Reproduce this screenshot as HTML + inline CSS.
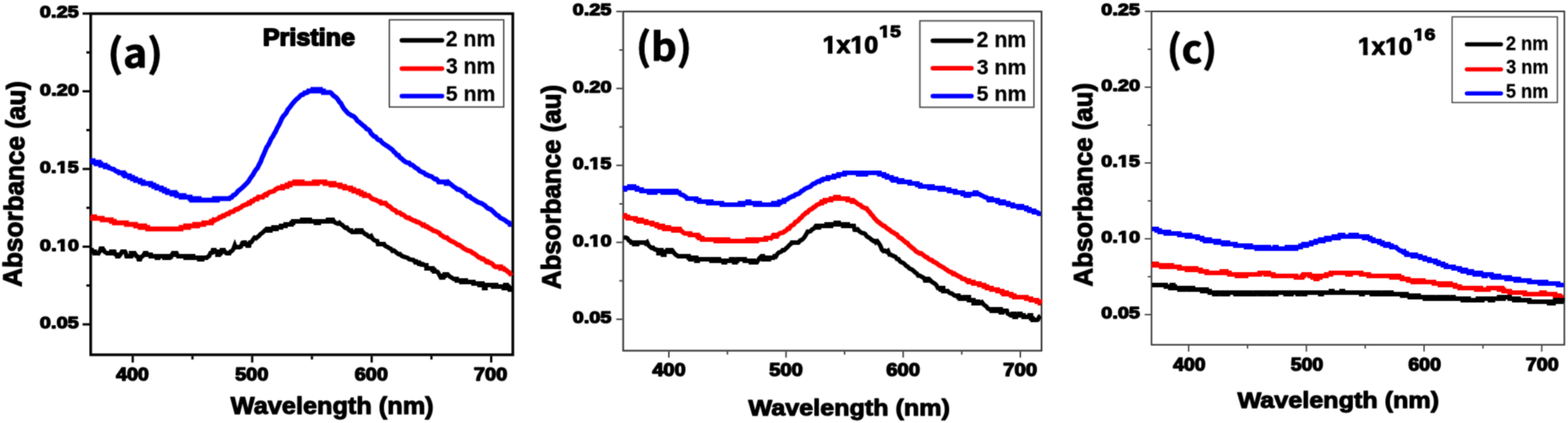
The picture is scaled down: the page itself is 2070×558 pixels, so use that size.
<!DOCTYPE html>
<html><head><meta charset="utf-8"><title>Absorbance spectra</title>
<style>
html,body{margin:0;padding:0;background:#fff;}
body{width:2070px;height:558px;overflow:hidden;}
svg{display:block;}
text{font-family:"Liberation Sans", Arial, Helvetica, sans-serif;font-weight:bold;}
</style></head><body>
<svg width="2070" height="558" viewBox="0 0 2070 558">
<defs><filter id="soft" x="0" y="0" width="2070" height="558" filterUnits="userSpaceOnUse" color-interpolation-filters="sRGB"><feConvolveMatrix order="3" kernelMatrix="1 2 1 2 8 2 1 2 1" edgeMode="duplicate"/></filter></defs>
<g filter="url(#soft)">
<rect x="0" y="0" width="2070" height="558" fill="#fff"/>
<rect x="119.75" y="18.00" width="557.25" height="450.00" fill="none" stroke="#000" stroke-width="3.5"/>
<line x1="118.00" y1="17.90" x2="109.00" y2="17.90" stroke="#000" stroke-width="2.98" stroke-linecap="butt"/>
<line x1="118.00" y1="120.40" x2="109.00" y2="120.40" stroke="#000" stroke-width="2.98" stroke-linecap="butt"/>
<line x1="118.00" y1="222.90" x2="109.00" y2="222.90" stroke="#000" stroke-width="2.98" stroke-linecap="butt"/>
<line x1="118.00" y1="325.40" x2="109.00" y2="325.40" stroke="#000" stroke-width="2.98" stroke-linecap="butt"/>
<line x1="118.00" y1="427.90" x2="109.00" y2="427.90" stroke="#000" stroke-width="2.98" stroke-linecap="butt"/>
<line x1="118.00" y1="69.15" x2="114.00" y2="69.15" stroke="#000" stroke-width="2.98" stroke-linecap="butt"/>
<line x1="118.00" y1="171.65" x2="114.00" y2="171.65" stroke="#000" stroke-width="2.98" stroke-linecap="butt"/>
<line x1="118.00" y1="274.15" x2="114.00" y2="274.15" stroke="#000" stroke-width="2.98" stroke-linecap="butt"/>
<line x1="118.00" y1="376.65" x2="114.00" y2="376.65" stroke="#000" stroke-width="2.98" stroke-linecap="butt"/>
<line x1="175.20" y1="469.75" x2="175.20" y2="478.25" stroke="#000" stroke-width="2.98" stroke-linecap="butt"/>
<line x1="332.95" y1="469.75" x2="332.95" y2="478.25" stroke="#000" stroke-width="2.98" stroke-linecap="butt"/>
<line x1="490.70" y1="469.75" x2="490.70" y2="478.25" stroke="#000" stroke-width="2.98" stroke-linecap="butt"/>
<line x1="648.45" y1="469.75" x2="648.45" y2="478.25" stroke="#000" stroke-width="2.98" stroke-linecap="butt"/>
<line x1="254.07" y1="469.75" x2="254.07" y2="474.25" stroke="#000" stroke-width="2.98" stroke-linecap="butt"/>
<line x1="411.82" y1="469.75" x2="411.82" y2="474.25" stroke="#000" stroke-width="2.98" stroke-linecap="butt"/>
<line x1="569.58" y1="469.75" x2="569.58" y2="474.25" stroke="#000" stroke-width="2.98" stroke-linecap="butt"/>
<path d="M119.0,288.0H121.0H123.0V286.0H125.0V288.0H127.0H129.0H131.0H133.0H135.0V290.0H137.0H139.0H141.0H143.0H145.0H147.0V292.0H149.0H151.0V294.0H153.0H155.0H157.0H159.0H161.0H163.0H165.0H167.0V296.0H169.0H171.0H173.0H175.0H177.0H179.0V298.0H181.0H183.0H185.0V300.0H187.0H189.0V298.0H191.0V300.0H193.0H195.0V302.0H197.0H199.0H201.0H203.0H205.0H207.0H209.0H211.0H213.0H215.0H217.0H219.0H221.0H223.0H225.0H227.0H229.0H231.0H233.0H235.0H237.0H239.0V300.0H241.0H243.0H245.0V298.0H247.0V300.0H249.0V298.0H251.0H253.0H255.0H257.0V296.0H259.0V298.0H261.0V296.0H263.0H265.0H267.0H269.0V294.0H271.0H273.0H275.0H277.0H279.0V292.0H281.0L282.0,289.9L284.0,290.4L286.0,289.3L288.0,288.7L290.0,286.5L292.0,286.6L294.0,284.5L296.0,284.7L298.0,283.0L300.0,281.9L302.0,282.1L304.0,279.7L306.0,279.5L308.0,279.1L310.0,277.0L312.0,275.9L314.0,276.1L316.0,274.3L318.0,273.8L320.0,271.6L322.0,271.1L324.0,269.8L326.0,269.7L328.0,267.6L330.0,268.1L332.0,265.3L334.0,265.4L336.0,263.0L338.0,262.3L340.0,262.4L341.0,260.0H343.0H345.0H347.0L348.0,258.1L350.0,256.5L352.0,257.2L354.0,254.7L356.0,253.5L358.0,253.0L360.0,252.5L362.0,251.8L364.0,249.6L366.0,249.0L367.0,248.0H369.0H371.0H373.0V246.0H375.0H377.0H379.0V244.0H381.0H383.0V242.0H385.0H387.0H389.0V240.0H391.0H393.0V242.0H395.0H397.0V240.0H399.0V242.0H401.0H403.0H405.0H407.0H409.0H411.0H413.0H415.0V240.0H417.0V242.0H419.0V240.0H421.0H423.0H425.0H427.0H429.0V242.0H431.0H433.0H435.0H437.0V244.0H439.0V242.0H441.0V244.0H443.0H445.0H447.0H449.0V246.0H451.0H453.0H455.0V248.0H457.0H459.0H461.0H463.0V250.0H465.0H467.0V252.0H469.0H471.0H473.0V254.0H475.0H477.0V256.0H479.0H481.0V258.0H483.0H485.0H487.0L488.0,259.0L490.0,261.3L492.0,262.5L494.0,263.1L496.0,263.6L498.0,264.8L500.0,265.9L502.0,265.9L503.0,268.0H505.0H507.0H509.0L510.0,269.4L512.0,271.6L514.0,272.2L516.0,273.9L518.0,276.0L520.0,276.9L522.0,277.7L524.0,280.3L526.0,280.3L528.0,280.7L530.0,283.0L532.0,283.1L534.0,284.6L536.0,286.6L538.0,287.4L540.0,287.3L542.0,289.0L544.0,289.8L546.0,290.9L548.0,291.3L550.0,292.8L552.0,292.8L554.0,294.1L556.0,295.2L558.0,297.1L560.0,296.5L562.0,298.8L564.0,298.9L566.0,300.7L568.0,301.5L570.0,302.7L572.0,304.3L574.0,304.7L576.0,305.3L578.0,306.4L580.0,307.5L582.0,310.1L584.0,310.9L586.0,312.7L588.0,313.4L590.0,313.4L592.0,315.7L594.0,317.1L596.0,318.2L598.0,319.0L600.0,319.9L602.0,321.2L604.0,322.9L606.0,323.1L608.0,324.6L610.0,325.7L612.0,327.6L614.0,328.5L616.0,329.8L618.0,330.7L620.0,331.0L622.0,332.0L624.0,333.7L626.0,334.5L628.0,336.0L630.0,337.6L632.0,339.3L634.0,339.9L636.0,341.5L638.0,341.4L640.0,343.0L642.0,345.2L644.0,344.8L646.0,346.5L648.0,347.0L650.0,348.1L652.0,350.7L654.0,352.0L655.0,352.0H657.0H659.0H661.0V354.0H663.0H665.0L666.0,355.7L668.0,356.1L670.0,358.1L672.0,359.2L674.0,361.7L675.2,363.6" fill="none" stroke="#ff0000" stroke-width="6.3" stroke-linejoin="miter" stroke-miterlimit="4" stroke-linecap="butt"/>
<path d="M119.0,212.0H121.0H123.0V214.0H125.0H127.0V216.0H129.0V214.0H131.0V216.0H133.0V218.0H135.0H137.0H139.0V220.0H141.0H143.0L144.0,221.6L146.0,221.9L148.0,223.1L150.0,223.1L152.0,224.9L154.0,226.2L156.0,226.5L157.0,228.0H159.0H161.0H163.0V230.0H165.0V232.0H167.0H169.0H171.0V234.0H173.0H175.0V236.0H177.0H179.0V238.0H181.0H183.0H185.0V240.0H187.0H189.0V242.0H191.0H193.0H195.0H197.0H199.0V244.0H201.0H203.0V246.0H205.0H207.0V248.0H209.0H211.0H213.0V250.0H215.0H217.0V252.0H219.0H221.0V254.0H223.0H225.0H227.0V256.0H229.0V254.0H231.0V256.0H233.0V258.0H235.0H237.0H239.0V260.0H241.0V258.0H243.0V260.0H245.0H247.0H249.0H251.0V262.0H253.0V264.0H255.0V262.0H257.0V264.0H259.0H261.0V262.0H263.0V264.0H265.0H267.0H269.0H271.0H273.0H275.0H277.0H279.0H281.0H283.0V262.0H285.0V264.0H287.0V262.0H289.0H291.0H293.0H295.0H297.0H299.0H301.0H303.0L304.0,260.6L306.0,260.3L308.0,257.5L310.0,256.9L312.0,255.0L314.0,252.3L316.0,250.7L318.0,249.1L320.0,247.5L322.0,245.4L324.0,243.4L326.0,241.5L328.0,239.4L330.0,236.0L332.0,233.0L334.0,230.5L336.0,226.7L338.0,223.8L340.0,221.5L342.0,217.1L344.0,213.6L346.0,208.2L348.0,203.9L350.0,199.1L352.0,194.2L354.0,191.5L356.0,187.7L358.0,183.0L360.0,180.4L362.0,176.5L364.0,173.2L366.0,168.6L368.0,165.3L370.0,161.3L372.0,156.5L374.0,153.3L376.0,151.2L378.0,148.6L380.0,144.5L382.0,142.2L384.0,139.7L386.0,136.9L388.0,134.7L390.0,132.3L392.0,130.4L394.0,129.0L396.0,126.7L398.0,125.1L400.0,124.8L402.0,122.5L404.0,122.5L406.0,121.8L407.0,120.0H409.0H411.0H413.0V118.0H415.0H417.0H419.0V120.0H421.0V118.0H423.0V120.0H425.0H427.0V122.0H429.0H431.0H433.0H435.0L436.0,122.0L438.0,123.6L440.0,126.0L442.0,127.3L444.0,128.9L446.0,131.1L448.0,134.4L450.0,136.3L452.0,140.1L454.0,143.4L456.0,145.5L458.0,147.9L460.0,150.0L462.0,150.9L464.0,152.5L466.0,152.9L468.0,154.5L470.0,156.8L472.0,159.7L474.0,160.8L476.0,162.7L478.0,164.4L480.0,166.0L482.0,167.5L484.0,170.1L486.0,170.7L488.0,172.5L490.0,176.2L492.0,178.1L494.0,180.0L496.0,180.6L498.0,183.2L500.0,184.7L502.0,185.0L504.0,187.6L506.0,189.3L508.0,190.6L510.0,192.0L512.0,193.1L514.0,194.8L516.0,196.2L518.0,197.5L520.0,200.2L522.0,201.7L524.0,204.6L526.0,204.8L528.0,207.9L530.0,209.1L532.0,211.1L534.0,212.6L536.0,214.0L538.0,214.6L540.0,214.8L542.0,217.3L544.0,217.5L546.0,218.9L548.0,220.9L550.0,222.0L552.0,223.2L554.0,225.6L556.0,226.4L558.0,227.3L560.0,228.2L562.0,230.3L564.0,230.6L566.0,232.1L568.0,232.4L570.0,233.1L572.0,234.7L574.0,236.2L576.0,236.1L578.0,238.2L579.0,240.0H581.0H583.0H585.0H587.0H589.0V242.0H591.0L592.0,240.5L594.0,242.3L596.0,243.7L598.0,245.6L600.0,246.8L602.0,248.3L604.0,250.1L606.0,249.9L608.0,251.2L610.0,252.6L612.0,253.8L614.0,254.9L616.0,257.9L618.0,259.0L620.0,259.0L622.0,261.2L624.0,262.2L626.0,263.6L628.0,264.7L630.0,266.2L632.0,267.1L634.0,267.7L636.0,268.4L638.0,269.8L640.0,270.8L642.0,273.0L644.0,274.7L646.0,275.5L648.0,276.3L650.0,278.0L652.0,280.0L654.0,282.0L656.0,283.9L658.0,284.7L660.0,287.1L662.0,288.1L664.0,289.0L666.0,290.1L668.0,291.5L670.0,293.1L672.0,293.8L673.0,296.0H675.0H675.5" fill="none" stroke="#0000ff" stroke-width="6.3" stroke-linejoin="miter" stroke-miterlimit="4" stroke-linecap="butt"/>
<path d="M119.0,330.0H121.0V332.0H123.0H125.0V334.0H127.0H129.0L130.0,334.2L132.0,331.0L133.0,328.0H135.0V330.0H137.0L138.0,332.1L140.0,333.4L141.0,334.0H143.0H145.0H147.0V332.0H149.0H151.0L152.0,335.3L153.0,336.0H155.0V338.0H157.0L158.0,336.9L160.0,333.9L161.0,332.0H163.0H165.0L166.0,333.9L167.0,338.0H169.0H171.0H173.0V334.0H175.0H177.0V336.0H179.0L180.0,337.9L182.0,338.6L183.0,342.0H185.0L186.0,339.2L188.0,338.1L190.0,335.9L191.0,334.0H193.0V336.0H195.0H197.0H199.0V338.0H201.0H203.0H205.0H207.0V340.0H209.0V338.0H211.0H213.0H215.0H217.0V340.0H219.0V338.0H221.0V340.0H223.0V338.0H225.0L226.0,338.4L227.0,336.0H229.0V334.0H231.0H233.0L234.0,336.1L235.0,338.0H237.0H239.0H241.0H243.0H245.0V340.0H247.0V338.0H249.0H251.0V340.0H253.0V338.0H255.0V340.0H257.0H259.0H261.0H263.0V342.0H265.0H267.0V340.0H269.0H271.0H273.0L274.0,338.9L276.0,337.8L278.0,333.6L280.0,333.3L281.0,330.0H283.0V332.0H285.0H287.0V336.0H289.0V334.0H291.0V332.0H293.0V330.0H295.0V332.0H297.0L298.0,333.1L299.0,334.0H301.0H303.0L304.0,332.1L306.0,331.2L308.0,328.8L310.0,323.4L311.0,326.0H313.0H315.0L316.0,326.2L318.0,325.3L320.0,320.3L321.0,320.0H323.0V322.0H325.0H327.0V324.0H329.0L330.0,319.7L332.0,319.2L334.0,316.1L336.0,313.5L338.0,314.3L340.0,312.5L342.0,311.1L344.0,308.6L346.0,307.4L348.0,305.6L350.0,303.6L351.0,304.0H353.0V302.0H355.0V304.0H357.0V302.0H359.0H361.0V300.0H363.0V302.0H365.0V300.0H367.0H369.0H371.0V298.0H373.0H375.0H377.0V296.0H379.0H381.0H383.0H385.0V294.0H387.0V292.0H389.0H391.0H393.0H395.0H397.0H399.0V290.0H401.0V292.0H403.0V290.0H405.0H407.0H409.0V292.0H411.0H413.0H415.0H417.0V294.0H419.0H421.0V292.0H423.0H425.0H427.0H429.0H431.0H433.0V290.0H435.0H437.0H439.0V292.0H441.0L442.0,293.4L444.0,294.3L446.0,295.1L448.0,293.8L450.0,295.9L452.0,296.9L454.0,299.2L456.0,300.6L458.0,300.2L460.0,302.9L462.0,304.4L464.0,304.0L465.0,306.0H467.0H469.0H471.0V304.0H473.0H475.0H477.0V306.0H479.0L480.0,306.9L482.0,308.8L484.0,309.4L486.0,311.5L488.0,312.4L490.0,311.3L492.0,315.2L494.0,316.7L496.0,317.6L498.0,318.0L499.0,322.0H501.0H503.0H505.0H507.0L508.0,323.9L510.0,325.1L512.0,326.0L514.0,327.5L516.0,328.2L518.0,331.0L520.0,330.4L522.0,331.9L524.0,333.8L526.0,335.3L528.0,335.1L530.0,337.3L532.0,338.3L534.0,338.9L536.0,339.5L538.0,340.1L540.0,341.8L542.0,342.4L544.0,342.6L546.0,343.1L548.0,345.9L550.0,345.0L552.0,347.5L554.0,346.6L556.0,348.9L558.0,348.4L560.0,349.4L561.0,350.0H563.0V354.0H565.0H567.0H569.0H571.0V356.0H573.0V358.0H575.0L576.0,358.0L578.0,358.9L580.0,362.6L582.0,366.1L583.0,366.0H585.0V364.0H587.0V362.0H589.0H591.0L592.0,363.1L594.0,365.0L596.0,366.1L598.0,367.4L599.0,368.0H601.0H603.0V370.0H605.0H607.0H609.0V372.0H611.0V370.0H613.0H615.0V372.0H617.0H619.0H621.0H623.0H625.0V374.0H627.0H629.0H631.0H633.0V376.0H635.0V374.0H637.0V376.0H639.0V380.0H641.0V376.0H643.0H645.0H647.0H649.0H651.0V378.0H653.0V376.0H655.0V378.0H657.0H659.0H661.0H663.0H665.0V380.0H667.0V376.0H669.0V378.0H671.0V380.0H673.0V382.0H675.0V380.0H675.5" fill="none" stroke="#000000" stroke-width="5.8" stroke-linejoin="miter" stroke-miterlimit="4" stroke-linecap="butt"/>
<text transform="matrix(0.26436,0,0,0.22958,52.59,23.02)" font-size="100" fill="#000" stroke="#000" stroke-width="6.90" stroke-linejoin="round">0.25</text>
<text transform="matrix(0.26649,0,0,0.22958,52.58,125.52)" font-size="100" fill="#000" stroke="#000" stroke-width="6.87" stroke-linejoin="round">0.20</text>
<clipPath id="c1_1" clipPathUnits="userSpaceOnUse"><path d="M-50,-150H2000V150H-50ZM83.2,-16.2H103.2V9.5H83.2ZM123.9,-16.2H140.8V9.5H123.9Z" clip-rule="evenodd"/></clipPath>
<text transform="matrix(0.26436,0,0,0.22958,52.59,228.02)" font-size="100" fill="#000" stroke="#000" stroke-width="6.90" stroke-linejoin="round" clip-path="url(#c1_1)">0.15</text>
<clipPath id="c1_2" clipPathUnits="userSpaceOnUse"><path d="M-50,-150H2000V150H-50ZM83.3,-16.1H103.3V9.4H83.3ZM123.9,-16.1H140.8V9.4H123.9Z" clip-rule="evenodd"/></clipPath>
<text transform="matrix(0.26649,0,0,0.22958,52.58,330.52)" font-size="100" fill="#000" stroke="#000" stroke-width="6.87" stroke-linejoin="round" clip-path="url(#c1_2)">0.10</text>
<text transform="matrix(0.26436,0,0,0.22958,52.59,433.02)" font-size="100" fill="#000" stroke="#000" stroke-width="6.90" stroke-linejoin="round">0.05</text>
<text transform="matrix(0.26025,0,0,0.23239,153.16,501.62)" font-size="100" fill="#000" stroke="#000" stroke-width="6.91" stroke-linejoin="round">400</text>
<text transform="matrix(0.26270,0,0,0.23239,310.51,501.62)" font-size="100" fill="#000" stroke="#000" stroke-width="6.88" stroke-linejoin="round">500</text>
<text transform="matrix(0.26352,0,0,0.23239,468.13,501.62)" font-size="100" fill="#000" stroke="#000" stroke-width="6.87" stroke-linejoin="round">600</text>
<text transform="matrix(0.26519,0,0,0.23239,625.61,501.62)" font-size="100" fill="#000" stroke="#000" stroke-width="6.85" stroke-linejoin="round">700</text>
<text transform="matrix(0.33425,0,0,0.31586,304.60,545.90)" font-size="100" fill="#000" stroke="#000" stroke-width="4.31" stroke-linejoin="round">Wavelength (nm)</text>
<text transform="translate(28.20,378.56) rotate(-88.9) scale(0.34434,0.34897)" font-size="100" fill="#000" stroke="#000" stroke-width="4.04" stroke-linejoin="round">Absorbance (au)</text>
<text transform="matrix(0.54237,0,0,0.51304,141.89,88.74)" font-size="100" style="font-family:'Noto Sans CJK JP', 'Liberation Sans', sans-serif" fill="#000" stroke="#000" stroke-width="1.90" stroke-linejoin="round">(a)</text>
<text transform="matrix(0.33156,0,0,0.31586,346.99,59.75)" font-size="100" fill="#000" stroke="#000" stroke-width="6.49" stroke-linejoin="round">Pristine</text>
<rect x="514" y="26.2" width="151" height="115" fill="none" stroke="#444" stroke-width="1.8"/>
<line x1="530.50" y1="53.20" x2="583.50" y2="53.20" stroke="#000000" stroke-width="6.00" stroke-linecap="round"/>
<text transform="matrix(0.28054,0,0,0.29143,588.47,60.55)" font-size="100" fill="#000" stroke="#000" stroke-width="1.05" stroke-linejoin="round">2 nm</text>
<line x1="530.50" y1="90.50" x2="583.50" y2="90.50" stroke="#ff0000" stroke-width="6.00" stroke-linecap="round"/>
<text transform="matrix(0.27929,0,0,0.28732,588.75,96.56)" font-size="100" fill="#000" stroke="#000" stroke-width="1.06" stroke-linejoin="round">3 nm</text>
<line x1="530.50" y1="126.80" x2="583.50" y2="126.80" stroke="#0000ff" stroke-width="6.00" stroke-linecap="round"/>
<text transform="matrix(0.27991,0,0,0.28286,588.61,132.97)" font-size="100" fill="#000" stroke="#000" stroke-width="1.07" stroke-linejoin="round">5 nm</text>
<rect x="822.70" y="15.20" width="552.30" height="447.40" fill="none" stroke="#333" stroke-width="2.2"/>
<line x1="821.60" y1="15.20" x2="813.60" y2="15.20" stroke="#333" stroke-width="1.87" stroke-linecap="butt"/>
<line x1="821.60" y1="116.70" x2="813.60" y2="116.70" stroke="#333" stroke-width="1.87" stroke-linecap="butt"/>
<line x1="821.60" y1="218.20" x2="813.60" y2="218.20" stroke="#333" stroke-width="1.87" stroke-linecap="butt"/>
<line x1="821.60" y1="319.70" x2="813.60" y2="319.70" stroke="#333" stroke-width="1.87" stroke-linecap="butt"/>
<line x1="821.60" y1="421.20" x2="813.60" y2="421.20" stroke="#333" stroke-width="1.87" stroke-linecap="butt"/>
<line x1="821.60" y1="65.95" x2="817.60" y2="65.95" stroke="#333" stroke-width="1.87" stroke-linecap="butt"/>
<line x1="821.60" y1="167.45" x2="817.60" y2="167.45" stroke="#333" stroke-width="1.87" stroke-linecap="butt"/>
<line x1="821.60" y1="268.95" x2="817.60" y2="268.95" stroke="#333" stroke-width="1.87" stroke-linecap="butt"/>
<line x1="821.60" y1="370.45" x2="817.60" y2="370.45" stroke="#333" stroke-width="1.87" stroke-linecap="butt"/>
<line x1="883.00" y1="463.70" x2="883.00" y2="471.70" stroke="#333" stroke-width="1.87" stroke-linecap="butt"/>
<line x1="1037.67" y1="463.70" x2="1037.67" y2="471.70" stroke="#333" stroke-width="1.87" stroke-linecap="butt"/>
<line x1="1192.34" y1="463.70" x2="1192.34" y2="471.70" stroke="#333" stroke-width="1.87" stroke-linecap="butt"/>
<line x1="1347.01" y1="463.70" x2="1347.01" y2="471.70" stroke="#333" stroke-width="1.87" stroke-linecap="butt"/>
<line x1="960.34" y1="463.70" x2="960.34" y2="467.70" stroke="#333" stroke-width="1.87" stroke-linecap="butt"/>
<line x1="1115.01" y1="463.70" x2="1115.01" y2="467.70" stroke="#333" stroke-width="1.87" stroke-linecap="butt"/>
<line x1="1269.67" y1="463.70" x2="1269.67" y2="467.70" stroke="#333" stroke-width="1.87" stroke-linecap="butt"/>
<path d="M823.0,284.0H825.0V286.0H827.0H829.0V288.0H831.0H833.0H835.0H837.0H839.0V290.0H841.0H843.0V292.0H845.0V290.0H847.0V292.0H849.0H851.0H853.0V294.0H855.0H857.0H859.0H861.0V296.0H863.0H865.0H867.0V298.0H869.0H871.0V300.0H873.0V298.0H875.0V300.0H877.0V302.0H879.0V300.0H881.0H883.0V302.0H885.0H887.0H889.0V304.0H891.0V302.0H893.0V304.0H895.0V302.0H897.0V304.0H899.0L900.0,305.0L902.0,306.8L904.0,308.0L905.0,308.0H907.0H909.0H911.0V310.0H913.0H915.0H917.0H919.0H921.0V312.0H923.0V314.0H925.0H927.0V316.0H929.0H931.0H933.0H935.0H937.0H939.0H941.0H943.0H945.0V318.0H947.0V316.0H949.0V318.0H951.0V316.0H953.0V318.0H955.0V316.0H957.0H959.0H961.0V318.0H963.0H965.0H967.0H969.0H971.0H973.0H975.0H977.0H979.0H981.0H983.0H985.0H987.0V316.0H989.0V318.0H991.0V316.0H993.0H995.0H997.0V318.0H999.0V316.0H1001.0H1003.0H1005.0H1007.0H1009.0H1011.0V314.0H1013.0H1015.0H1017.0L1018.0,314.3L1020.0,311.9L1021.0,310.0H1023.0V312.0H1025.0V310.0H1027.0L1028.0,308.8L1030.0,307.5L1032.0,307.2L1034.0,306.6L1036.0,305.0L1038.0,304.0L1040.0,301.6L1042.0,301.5L1044.0,298.2L1046.0,297.3L1048.0,296.2L1050.0,293.0L1052.0,292.2L1054.0,290.7L1056.0,288.2L1058.0,286.9L1060.0,284.0L1062.0,282.9L1064.0,280.7L1066.0,280.3L1068.0,277.6L1070.0,276.2L1072.0,275.5L1074.0,273.5L1076.0,272.7L1078.0,270.6L1080.0,269.6L1082.0,269.0L1083.0,268.0H1085.0V266.0H1087.0H1089.0V264.0H1091.0H1093.0H1095.0H1097.0V262.0H1099.0H1101.0H1103.0V260.0H1105.0H1107.0V262.0H1109.0H1111.0H1113.0H1115.0H1117.0H1119.0V264.0H1121.0H1123.0H1125.0V266.0H1127.0L1128.0,265.6L1130.0,267.0L1132.0,268.8L1134.0,269.9L1136.0,270.4L1138.0,272.9L1140.0,273.6L1142.0,274.7L1144.0,274.9L1146.0,278.0L1148.0,279.7L1150.0,282.7L1152.0,284.6L1154.0,287.5L1156.0,289.4L1158.0,291.9L1160.0,292.9L1162.0,294.8L1164.0,296.3L1166.0,297.8L1168.0,298.3L1170.0,300.5L1172.0,301.9L1174.0,302.9L1176.0,304.9L1178.0,306.3L1180.0,307.0L1182.0,308.6L1184.0,309.4L1186.0,312.1L1188.0,313.8L1190.0,314.5L1192.0,316.5L1194.0,318.2L1196.0,320.0L1198.0,320.7L1200.0,323.6L1202.0,324.9L1204.0,326.8L1206.0,328.1L1208.0,330.1L1210.0,332.1L1212.0,333.0L1214.0,334.3L1216.0,334.2L1218.0,335.6L1220.0,337.3L1222.0,338.9L1224.0,339.5L1226.0,341.6L1228.0,342.8L1230.0,343.0L1232.0,345.1L1234.0,345.9L1236.0,346.9L1238.0,348.4L1240.0,350.0L1242.0,351.0L1244.0,352.3L1246.0,353.1L1248.0,355.0L1250.0,355.9L1252.0,357.5L1254.0,358.5L1256.0,359.0L1258.0,361.3L1260.0,360.8L1262.0,362.6L1264.0,363.5L1266.0,364.9L1268.0,365.3L1270.0,367.6L1272.0,367.8L1274.0,368.2L1276.0,370.2L1277.0,370.0H1279.0V372.0H1281.0H1283.0H1285.0V374.0H1287.0H1289.0H1291.0H1293.0V376.0H1295.0H1297.0H1299.0V378.0H1301.0H1303.0V380.0H1305.0H1307.0H1309.0V382.0H1311.0H1313.0H1315.0H1317.0V384.0H1319.0H1321.0H1323.0V386.0H1325.0V388.0H1327.0V386.0H1329.0V388.0H1331.0H1333.0H1335.0V390.0H1337.0H1339.0V392.0H1341.0H1343.0H1345.0H1347.0H1349.0H1351.0H1353.0H1355.0V394.0H1357.0H1359.0H1361.0V396.0H1363.0H1365.0H1367.0H1369.0V398.0H1371.0H1373.0V400.0H1374.0" fill="none" stroke="#ff0000" stroke-width="6.2" stroke-linejoin="miter" stroke-miterlimit="4" stroke-linecap="butt"/>
<path d="M823.0,250.0H825.0V248.0H827.0H829.0H831.0V246.0H833.0V248.0H835.0V246.0H837.0V248.0H839.0H841.0V250.0H843.0H845.0H847.0V252.0H849.0H851.0H853.0H855.0H857.0V254.0H859.0H861.0V252.0H863.0V254.0H865.0V252.0H867.0H869.0H871.0H873.0H875.0V254.0H877.0H879.0V252.0H881.0H883.0V254.0H885.0V252.0H887.0V254.0H889.0V252.0H891.0H893.0V254.0H895.0H897.0L898.0,256.1L900.0,257.1L902.0,257.5L904.0,259.0L906.0,260.2L907.0,262.0H909.0H911.0H913.0H915.0H917.0H919.0V264.0H921.0H923.0V266.0H925.0H927.0H929.0H931.0H933.0H935.0V268.0H937.0V266.0H939.0V268.0H941.0H943.0H945.0H947.0H949.0H951.0H953.0V270.0H955.0H957.0H959.0H961.0H963.0H965.0H967.0H969.0H971.0H973.0H975.0H977.0V268.0H979.0V270.0H981.0V268.0H983.0H985.0H987.0V266.0H989.0V268.0H991.0H993.0H995.0H997.0V270.0H999.0H1001.0V268.0H1003.0V270.0H1005.0H1007.0H1009.0H1011.0H1013.0H1015.0H1017.0H1019.0H1021.0V268.0H1023.0H1025.0V270.0H1027.0V268.0H1029.0V266.0H1031.0L1032.0,266.6L1033.0,266.0H1035.0V264.0H1037.0L1038.0,263.3L1040.0,262.5L1042.0,260.8L1044.0,260.1L1046.0,258.9L1048.0,258.8L1050.0,256.8L1052.0,256.2L1054.0,255.6L1056.0,254.3L1058.0,252.1L1060.0,251.3L1062.0,249.6L1064.0,248.6L1066.0,247.5L1068.0,246.9L1070.0,246.0L1072.0,243.8L1074.0,242.3L1076.0,242.1L1078.0,240.4L1080.0,239.3L1082.0,239.7L1084.0,237.5L1086.0,237.6L1087.0,236.0H1089.0H1091.0H1093.0V234.0H1095.0H1097.0H1099.0H1101.0V232.0H1103.0H1105.0H1107.0V230.0H1109.0H1111.0H1113.0H1115.0V228.0H1117.0H1119.0H1121.0H1123.0H1125.0H1127.0H1129.0H1131.0H1133.0V230.0H1135.0H1137.0H1139.0V228.0H1141.0V230.0H1143.0V228.0H1145.0H1147.0H1149.0H1151.0H1153.0H1155.0H1157.0H1159.0H1161.0V230.0H1163.0H1165.0H1167.0V232.0H1169.0H1171.0V234.0H1173.0H1175.0H1177.0V236.0H1179.0V238.0H1181.0V236.0H1183.0V238.0H1185.0H1187.0V240.0H1189.0V238.0H1191.0V240.0H1193.0H1195.0H1197.0H1199.0H1201.0V242.0H1203.0H1205.0H1207.0H1209.0H1211.0V244.0H1213.0H1215.0V246.0H1217.0H1219.0H1221.0H1223.0H1225.0H1227.0V248.0H1229.0V246.0H1231.0V248.0H1233.0H1235.0H1237.0H1239.0H1241.0V250.0H1243.0V248.0H1245.0V250.0H1247.0H1249.0H1251.0H1253.0V252.0H1255.0H1257.0H1259.0H1261.0V254.0H1263.0H1265.0H1267.0H1269.0H1271.0V256.0H1273.0H1275.0V258.0H1277.0H1279.0V256.0H1281.0H1283.0H1285.0H1287.0V254.0H1289.0V256.0H1291.0H1293.0L1294.0,256.8L1296.0,257.9L1298.0,258.7L1300.0,260.0L1302.0,260.3L1304.0,261.8L1305.0,264.0H1307.0V262.0H1309.0V264.0H1311.0H1313.0H1315.0H1317.0V266.0H1319.0H1321.0V268.0H1323.0V266.0H1325.0V268.0H1327.0H1329.0H1331.0V270.0H1333.0H1335.0H1337.0V272.0H1339.0H1341.0H1343.0H1345.0V274.0H1347.0V272.0H1349.0V274.0H1351.0H1353.0H1355.0V276.0H1357.0H1359.0V278.0H1361.0H1363.0H1365.0V280.0H1367.0L1368.0,279.9L1370.0,280.4L1371.0,282.0H1373.0H1374.0" fill="none" stroke="#0000ff" stroke-width="6.2" stroke-linejoin="miter" stroke-miterlimit="4" stroke-linecap="butt"/>
<path d="M823.2,313.3L824.2,313.3L826.2,313.4L828.2,314.3L830.2,317.3L832.2,318.3L833.2,320.0H835.2H837.2V322.0H839.2H841.2V320.0H843.2H845.2H847.2H849.2H851.2L852.2,321.1L854.2,319.4L856.2,323.8L858.2,325.6L860.2,327.1L862.2,326.7L864.2,328.9L866.2,329.0L867.2,330.0H869.2V334.0H871.2V330.0H873.2V332.0H875.2V336.0H877.2V332.0H879.2H881.2V330.0H883.2V332.0H885.2V330.0H887.2L888.2,331.3L890.2,334.1L892.2,336.1L894.2,337.3L895.2,338.0H897.2H899.2H901.2H903.2H905.2H907.2H909.2V340.0H911.2V342.0H913.2V340.0H915.2H917.2H919.2V344.0H921.2V342.0H923.2H925.2H927.2H929.2H931.2H933.2H935.2H937.2H939.2V344.0H941.2V342.0H943.2H945.2V344.0H947.2V342.0H949.2V344.0H951.2H953.2H955.2V346.0H957.2V344.0H959.2H961.2H963.2H965.2V342.0H967.2V344.0H969.2V346.0H971.2V344.0H973.2V342.0H975.2H977.2H979.2H981.2H983.2V344.0H985.2H987.2H989.2H991.2V346.0H993.2V344.0H995.2V346.0H997.2H999.2L1000.2,344.5L1002.2,341.1L1004.2,339.1L1005.2,338.0H1007.2V342.0H1009.2V340.0H1011.2H1013.2V342.0H1015.2V340.0H1017.2H1019.2H1021.2L1022.2,338.0L1024.2,338.6L1026.2,335.0L1028.2,333.0L1030.2,332.5L1032.2,331.4L1033.2,330.0H1035.2L1036.2,329.2L1038.2,327.2L1040.2,325.5L1042.2,323.1L1044.2,321.8L1045.2,320.0H1047.2H1049.2H1051.2H1053.2L1054.2,319.9L1056.2,317.2L1058.2,316.6L1060.2,315.0L1062.2,312.5L1064.2,309.3L1066.2,305.5L1068.2,305.6L1070.2,304.8L1072.2,302.5L1074.2,301.7L1076.2,299.3L1077.2,298.0H1079.2V300.0H1081.2V298.0H1083.2H1085.2H1087.2H1089.2H1091.2V296.0H1093.2V298.0H1095.2H1097.2V296.0H1099.2H1101.2H1103.2V294.0H1105.2H1107.2V296.0H1109.2H1111.2H1113.2V298.0H1115.2V296.0H1117.2H1119.2V298.0H1121.2H1123.2H1125.2H1127.2L1128.2,303.0L1130.2,303.2L1132.2,302.5L1134.2,304.9L1136.2,306.2L1138.2,307.4L1140.2,307.5L1142.2,308.6L1144.2,311.6L1146.2,312.9L1148.2,314.0L1150.2,315.9L1152.2,317.2L1153.2,318.0H1155.2L1156.2,319.7L1158.2,318.2L1160.2,320.9L1162.2,324.1L1164.2,329.3L1166.2,331.3L1168.2,330.7L1170.2,332.1L1172.2,330.8L1174.2,335.9L1176.2,336.1L1178.2,337.1L1180.2,338.0L1182.2,338.8L1184.2,341.8L1186.2,341.9L1188.2,344.9L1190.2,346.1L1192.2,346.8L1194.2,348.3L1196.2,350.6L1198.2,351.5L1200.2,354.0L1202.2,354.9L1204.2,355.8L1206.2,357.4L1208.2,359.4L1210.2,360.6L1212.2,363.6L1214.2,363.6L1216.2,364.8L1218.2,365.8L1220.2,367.2L1221.2,370.0H1223.2V368.0H1225.2V370.0H1227.2L1228.2,369.6L1230.2,371.9L1232.2,373.0L1234.2,374.3L1236.2,376.2L1238.2,380.0L1240.2,380.2L1241.2,382.0H1243.2V380.0H1245.2V384.0H1247.2H1249.2H1251.2L1252.2,385.2L1254.2,386.7L1256.2,387.0L1258.2,388.4L1260.2,389.9L1262.2,390.1L1263.2,390.0H1265.2V392.0H1267.2V394.0H1269.2H1271.2H1273.2V392.0H1275.2V394.0H1277.2V392.0H1279.2V396.0H1281.2H1283.2H1285.2V400.0H1287.2V398.0H1289.2H1291.2V400.0H1293.2L1294.2,399.2L1296.2,398.5L1298.2,401.4L1300.2,403.0L1302.2,404.3L1304.2,407.0L1306.2,408.1L1307.2,408.0H1309.2V410.0H1311.2V408.0H1313.2V410.0H1315.2V408.0H1317.2V410.0H1319.2V408.0H1321.2V412.0H1323.2V410.0H1325.2H1327.2H1329.2L1330.2,413.6L1332.2,414.6L1334.2,416.0L1335.2,416.0H1337.2V414.0H1339.2V418.0H1341.2V416.0H1343.2H1345.2V414.0H1347.2V416.0H1349.2H1351.2V418.0H1353.2H1355.2H1357.2H1359.2V416.0H1361.2V420.0H1363.2V422.0H1365.2H1367.2H1369.2L1370.2,421.7L1372.2,417.6L1373.6,416.8" fill="none" stroke="#000000" stroke-width="5.8" stroke-linejoin="miter" stroke-miterlimit="4" stroke-linecap="butt"/>
<text transform="matrix(0.26330,0,0,0.22958,756.00,20.32)" font-size="100" fill="#000" stroke="#000" stroke-width="6.91" stroke-linejoin="round">0.25</text>
<text transform="matrix(0.26542,0,0,0.22958,755.99,121.82)" font-size="100" fill="#000" stroke="#000" stroke-width="6.89" stroke-linejoin="round">0.20</text>
<clipPath id="c1_3" clipPathUnits="userSpaceOnUse"><path d="M-50,-150H2000V150H-50ZM83.2,-16.2H103.2V9.5H83.2ZM123.9,-16.2H140.8V9.5H123.9Z" clip-rule="evenodd"/></clipPath>
<text transform="matrix(0.26330,0,0,0.22958,756.00,223.32)" font-size="100" fill="#000" stroke="#000" stroke-width="6.91" stroke-linejoin="round" clip-path="url(#c1_3)">0.15</text>
<clipPath id="c1_4" clipPathUnits="userSpaceOnUse"><path d="M-50,-150H2000V150H-50ZM83.2,-16.1H103.2V9.4H83.2ZM123.9,-16.1H140.8V9.4H123.9Z" clip-rule="evenodd"/></clipPath>
<text transform="matrix(0.26542,0,0,0.22958,755.99,324.82)" font-size="100" fill="#000" stroke="#000" stroke-width="6.89" stroke-linejoin="round" clip-path="url(#c1_4)">0.10</text>
<text transform="matrix(0.26330,0,0,0.22958,756.00,426.32)" font-size="100" fill="#000" stroke="#000" stroke-width="6.91" stroke-linejoin="round">0.05</text>
<text transform="matrix(0.26398,0,0,0.23521,861.15,495.51)" font-size="100" fill="#000" stroke="#000" stroke-width="6.82" stroke-linejoin="round">400</text>
<text transform="matrix(0.26646,0,0,0.23521,1015.42,495.51)" font-size="100" fill="#000" stroke="#000" stroke-width="6.79" stroke-linejoin="round">500</text>
<text transform="matrix(0.26730,0,0,0.23521,1169.95,495.51)" font-size="100" fill="#000" stroke="#000" stroke-width="6.78" stroke-linejoin="round">600</text>
<text transform="matrix(0.26899,0,0,0.23521,1324.35,495.51)" font-size="100" fill="#000" stroke="#000" stroke-width="6.76" stroke-linejoin="round">700</text>
<text transform="matrix(0.33187,0,0,0.29103,988.10,547.90)" font-size="100" fill="#000" stroke="#000" stroke-width="4.50" stroke-linejoin="round">Wavelength (nm)</text>
<text transform="translate(739.90,381.55) rotate(-90.0) scale(0.34191,0.34897)" font-size="100" fill="#000" stroke="#000" stroke-width="4.05" stroke-linejoin="round">Absorbance (au)</text>
<text transform="matrix(0.52927,0,0,0.50821,839.40,80.44)" font-size="100" style="font-family:'Noto Sans CJK JP', 'Liberation Sans', sans-serif" fill="#000" stroke="#000" stroke-width="1.93" stroke-linejoin="round">(b)</text>
<clipPath id="c1_5" clipPathUnits="userSpaceOnUse"><path d="M-50,-150H2000V150H-50ZM1.1,-14.9H21.1V8.2H1.1ZM39.3,-14.9H56.2V8.2H39.3ZM112.4,-14.9H132.4V8.2H112.4ZM150.5,-14.9H167.4V8.2H150.5Z" clip-rule="evenodd"/></clipPath>
<text transform="matrix(0.33066,0,0,0.31831,1085.95,69.78)" font-size="100" fill="#000" stroke="#000" stroke-width="4.32" stroke-linejoin="round" clip-path="url(#c1_5)">1x10</text>
<clipPath id="c1_6" clipPathUnits="userSpaceOnUse"><path d="M-50,-150H2000V150H-50ZM0.4,-15.6H20.4V8.9H0.4ZM40.0,-15.6H56.9V8.9H40.0Z" clip-rule="evenodd"/></clipPath>
<text transform="matrix(0.25882,0,0,0.22286,1160.52,49.48)" font-size="100" fill="#000" stroke="#000" stroke-width="5.83" stroke-linejoin="round" clip-path="url(#c1_6)">15</text>
<rect x="1214.4" y="27.5" width="150.5" height="114" fill="none" stroke="#444" stroke-width="1.8"/>
<line x1="1231.50" y1="53.80" x2="1282.50" y2="53.80" stroke="#000000" stroke-width="6.00" stroke-linecap="round"/>
<text transform="matrix(0.28188,0,0,0.29571,1289.16,61.85)" font-size="100" fill="#000" stroke="#000" stroke-width="1.04" stroke-linejoin="round">2 nm</text>
<line x1="1231.50" y1="89.90" x2="1282.50" y2="89.90" stroke="#ff0000" stroke-width="6.00" stroke-linecap="round"/>
<text transform="matrix(0.28062,0,0,0.28310,1289.45,97.77)" font-size="100" fill="#000" stroke="#000" stroke-width="1.06" stroke-linejoin="round">3 nm</text>
<line x1="1231.50" y1="126.70" x2="1282.50" y2="126.70" stroke="#0000ff" stroke-width="6.00" stroke-linecap="round"/>
<text transform="matrix(0.28125,0,0,0.28286,1289.31,132.97)" font-size="100" fill="#000" stroke="#000" stroke-width="1.06" stroke-linejoin="round">5 nm</text>
<rect x="1520.20" y="15.00" width="545.00" height="439.80" fill="none" stroke="#333" stroke-width="2.0"/>
<line x1="1519.20" y1="15.00" x2="1511.20" y2="15.00" stroke="#333" stroke-width="1.70" stroke-linecap="butt"/>
<line x1="1519.20" y1="115.00" x2="1511.20" y2="115.00" stroke="#333" stroke-width="1.70" stroke-linecap="butt"/>
<line x1="1519.20" y1="215.00" x2="1511.20" y2="215.00" stroke="#333" stroke-width="1.70" stroke-linecap="butt"/>
<line x1="1519.20" y1="315.00" x2="1511.20" y2="315.00" stroke="#333" stroke-width="1.70" stroke-linecap="butt"/>
<line x1="1519.20" y1="415.00" x2="1511.20" y2="415.00" stroke="#333" stroke-width="1.70" stroke-linecap="butt"/>
<line x1="1519.20" y1="65.00" x2="1515.20" y2="65.00" stroke="#333" stroke-width="1.70" stroke-linecap="butt"/>
<line x1="1519.20" y1="165.00" x2="1515.20" y2="165.00" stroke="#333" stroke-width="1.70" stroke-linecap="butt"/>
<line x1="1519.20" y1="265.00" x2="1515.20" y2="265.00" stroke="#333" stroke-width="1.70" stroke-linecap="butt"/>
<line x1="1519.20" y1="365.00" x2="1515.20" y2="365.00" stroke="#333" stroke-width="1.70" stroke-linecap="butt"/>
<line x1="1569.20" y1="455.80" x2="1569.20" y2="463.80" stroke="#333" stroke-width="1.70" stroke-linecap="butt"/>
<line x1="1724.60" y1="455.80" x2="1724.60" y2="463.80" stroke="#333" stroke-width="1.70" stroke-linecap="butt"/>
<line x1="1880.00" y1="455.80" x2="1880.00" y2="463.80" stroke="#333" stroke-width="1.70" stroke-linecap="butt"/>
<line x1="2035.40" y1="455.80" x2="2035.40" y2="463.80" stroke="#333" stroke-width="1.70" stroke-linecap="butt"/>
<line x1="1646.90" y1="455.80" x2="1646.90" y2="459.80" stroke="#333" stroke-width="1.70" stroke-linecap="butt"/>
<line x1="1802.30" y1="455.80" x2="1802.30" y2="459.80" stroke="#333" stroke-width="1.70" stroke-linecap="butt"/>
<line x1="1957.70" y1="455.80" x2="1957.70" y2="459.80" stroke="#333" stroke-width="1.70" stroke-linecap="butt"/>
<path d="M1521.0,348.0H1523.0V350.0H1525.0V348.0H1527.0V350.0H1529.0H1531.0H1533.0V352.0H1535.0V350.0H1537.0V352.0H1539.0V350.0H1541.0H1543.0V352.0H1545.0V350.0H1547.0V352.0H1549.0H1551.0H1553.0H1555.0H1557.0V354.0H1559.0H1561.0H1563.0H1565.0H1567.0V356.0H1569.0V354.0H1571.0V356.0H1573.0V354.0H1575.0H1577.0H1579.0V356.0H1581.0H1583.0H1585.0V358.0H1587.0H1589.0H1591.0H1593.0V360.0H1595.0H1597.0H1599.0H1601.0H1603.0H1605.0H1607.0H1609.0H1611.0H1613.0V358.0H1615.0V360.0H1617.0V358.0H1619.0V360.0H1621.0H1623.0V362.0H1625.0H1627.0H1629.0H1631.0H1633.0V364.0H1635.0H1637.0V362.0H1639.0V364.0H1641.0H1643.0H1645.0V362.0H1647.0H1649.0H1651.0H1653.0H1655.0H1657.0H1659.0H1661.0H1663.0V360.0H1665.0H1667.0H1669.0H1671.0V362.0H1673.0V360.0H1675.0V362.0H1677.0H1679.0H1681.0V364.0H1683.0H1685.0H1687.0H1689.0H1691.0H1693.0H1695.0H1697.0H1699.0H1701.0H1703.0H1705.0H1707.0H1709.0H1711.0V366.0H1713.0H1715.0H1717.0H1719.0V364.0H1721.0V362.0H1723.0H1725.0H1727.0H1729.0V364.0H1731.0H1733.0V366.0H1735.0V364.0H1737.0V368.0H1739.0V366.0H1741.0H1743.0V364.0H1745.0H1747.0H1749.0H1751.0V362.0H1753.0H1755.0H1757.0V360.0H1759.0H1761.0H1763.0H1765.0H1767.0H1769.0H1771.0H1773.0H1775.0H1777.0H1779.0V362.0H1781.0H1783.0V360.0H1785.0H1787.0H1789.0H1791.0H1793.0H1795.0H1797.0V362.0H1799.0H1801.0H1803.0H1805.0H1807.0V364.0H1809.0H1811.0H1813.0H1815.0H1817.0H1819.0H1821.0H1823.0H1825.0H1827.0H1829.0H1831.0H1833.0H1835.0H1837.0V366.0H1839.0H1841.0V364.0H1843.0H1845.0H1847.0V366.0H1849.0H1851.0V368.0H1853.0H1855.0H1857.0H1859.0V370.0H1861.0H1863.0H1865.0V372.0H1867.0V370.0H1869.0H1871.0V372.0H1873.0H1875.0V370.0H1877.0H1879.0V372.0H1881.0H1883.0H1885.0H1887.0H1889.0H1891.0H1893.0V374.0H1895.0H1897.0H1899.0H1901.0V376.0H1903.0V374.0H1905.0H1907.0V376.0H1909.0H1911.0H1913.0V374.0H1915.0V376.0H1917.0H1919.0H1921.0V378.0H1923.0H1925.0H1927.0V380.0H1929.0H1931.0H1933.0H1935.0H1937.0H1939.0H1941.0H1943.0H1945.0H1947.0H1949.0V382.0H1951.0H1953.0V380.0H1955.0V382.0H1957.0H1959.0H1961.0H1963.0H1965.0V380.0H1967.0H1969.0H1971.0H1973.0H1975.0H1977.0H1979.0V382.0H1981.0V380.0H1983.0V382.0H1985.0V384.0H1987.0H1989.0H1991.0H1993.0V386.0H1995.0H1997.0H1999.0H2001.0H2003.0H2005.0H2007.0H2009.0H2011.0H2013.0V388.0H2015.0H2017.0H2019.0H2021.0H2023.0H2025.0H2027.0H2029.0H2031.0H2033.0H2035.0V386.0H2037.0H2039.0V388.0H2041.0H2043.0H2045.0H2047.0H2049.0H2051.0H2053.0V390.0H2055.0H2057.0H2059.0V392.0H2061.0H2063.0H2064.5" fill="none" stroke="#ff0000" stroke-width="6.2" stroke-linejoin="miter" stroke-miterlimit="4" stroke-linecap="butt"/>
<path d="M1521.0,302.0H1523.0H1525.0H1527.0V304.0H1529.0H1531.0V306.0H1533.0H1535.0H1537.0H1539.0V308.0H1541.0V306.0H1543.0V308.0H1545.0H1547.0H1549.0H1551.0H1553.0H1555.0H1557.0V310.0H1559.0H1561.0H1563.0H1565.0H1567.0V312.0H1569.0V310.0H1571.0V312.0H1573.0H1575.0H1577.0H1579.0H1581.0V314.0H1583.0H1585.0H1587.0V316.0H1589.0H1591.0V318.0H1593.0H1595.0V316.0H1597.0V318.0H1599.0H1601.0H1603.0H1605.0V320.0H1607.0V318.0H1609.0V320.0H1611.0H1613.0H1615.0V322.0H1617.0V320.0H1619.0H1621.0V322.0H1623.0H1625.0H1627.0H1629.0H1631.0V324.0H1633.0H1635.0H1637.0H1639.0H1641.0H1643.0H1645.0V326.0H1647.0H1649.0V324.0H1651.0V326.0H1653.0H1655.0H1657.0H1659.0V328.0H1661.0H1663.0V326.0H1665.0V328.0H1667.0H1669.0V326.0H1671.0V328.0H1673.0V326.0H1675.0V328.0H1677.0H1679.0H1681.0H1683.0V326.0H1685.0V328.0H1687.0H1689.0H1691.0H1693.0H1695.0H1697.0H1699.0V326.0H1701.0V328.0H1703.0V326.0H1705.0V328.0H1707.0V326.0H1709.0V328.0H1711.0V326.0H1713.0H1715.0H1717.0V324.0H1719.0H1721.0V322.0H1723.0V324.0H1725.0V322.0H1727.0H1729.0H1731.0V320.0H1733.0H1735.0H1737.0V318.0H1739.0H1741.0H1743.0V316.0H1745.0V318.0H1747.0V316.0H1749.0H1751.0V314.0H1753.0V316.0H1755.0V314.0H1757.0H1759.0H1761.0V312.0H1763.0V314.0H1765.0H1767.0V312.0H1769.0V310.0H1771.0H1773.0V312.0H1775.0H1777.0H1779.0H1781.0H1783.0V310.0H1785.0V312.0H1787.0V310.0H1789.0H1791.0V312.0H1793.0H1795.0H1797.0H1799.0H1801.0V314.0H1803.0V312.0H1805.0V314.0H1807.0H1809.0V316.0H1811.0H1813.0V318.0H1815.0H1817.0H1819.0H1821.0V320.0H1823.0H1825.0V322.0H1827.0H1829.0V324.0H1831.0V322.0H1833.0V324.0H1835.0H1837.0V326.0H1839.0H1841.0H1843.0L1844.0,327.4L1846.0,328.9L1848.0,330.6L1850.0,330.8L1852.0,332.4L1854.0,331.7L1855.0,334.0H1857.0V336.0H1859.0H1861.0H1863.0H1865.0V338.0H1867.0V336.0H1869.0V338.0H1871.0H1873.0H1875.0V340.0H1877.0H1879.0H1881.0V342.0H1883.0H1885.0H1887.0V344.0H1889.0H1891.0H1893.0H1895.0V346.0H1897.0H1899.0V348.0H1901.0H1903.0H1905.0V350.0H1907.0H1909.0V352.0H1911.0H1913.0H1915.0H1917.0H1919.0V354.0H1921.0H1923.0H1925.0H1927.0V356.0H1929.0H1931.0V358.0H1933.0V356.0H1935.0V358.0H1937.0H1939.0V360.0H1941.0V358.0H1943.0V360.0H1945.0H1947.0V362.0H1949.0H1951.0H1953.0V360.0H1955.0V362.0H1957.0H1959.0V364.0H1961.0V362.0H1963.0H1965.0H1967.0H1969.0V364.0H1971.0V366.0H1973.0V364.0H1975.0V366.0H1977.0V364.0H1979.0V366.0H1981.0H1983.0H1985.0H1987.0H1989.0V368.0H1991.0V366.0H1993.0V368.0H1995.0H1997.0H1999.0H2001.0V370.0H2003.0V368.0H2005.0V370.0H2007.0H2009.0H2011.0H2013.0H2015.0H2017.0H2019.0V372.0H2021.0H2023.0H2025.0H2027.0H2029.0H2031.0H2033.0V374.0H2035.0V372.0H2037.0H2039.0H2041.0V374.0H2043.0H2045.0H2047.0H2049.0H2051.0H2053.0H2055.0H2057.0V376.0H2059.0H2061.0H2063.0H2064.5" fill="none" stroke="#0000ff" stroke-width="6.2" stroke-linejoin="miter" stroke-miterlimit="4" stroke-linecap="butt"/>
<path d="M1521.0,376.0H1523.0H1525.0H1527.0H1529.0H1531.0H1533.0H1535.0H1537.0H1539.0V378.0H1541.0H1543.0H1545.0V380.0H1547.0V376.0H1549.0V378.0H1551.0V380.0H1553.0H1555.0H1557.0V382.0H1559.0V380.0H1561.0V382.0H1563.0V380.0H1565.0H1567.0H1569.0V382.0H1571.0V380.0H1573.0H1575.0V382.0H1577.0H1579.0H1581.0H1583.0H1585.0H1587.0V384.0H1589.0V382.0H1591.0H1593.0V384.0H1595.0H1597.0V386.0H1599.0H1601.0H1603.0V388.0H1605.0H1607.0V386.0H1609.0H1611.0H1613.0V388.0H1615.0V386.0H1617.0V388.0H1619.0H1621.0V386.0H1623.0H1625.0H1627.0H1629.0H1631.0V388.0H1633.0V386.0H1635.0V388.0H1637.0V386.0H1639.0V388.0H1641.0H1643.0V386.0H1645.0V388.0H1647.0H1649.0V386.0H1651.0V388.0H1653.0H1655.0H1657.0V386.0H1659.0H1661.0H1663.0V388.0H1665.0V386.0H1667.0V388.0H1669.0V386.0H1671.0H1673.0H1675.0V388.0H1677.0H1679.0H1681.0V386.0H1683.0V388.0H1685.0V386.0H1687.0H1689.0H1691.0H1693.0H1695.0H1697.0V388.0H1699.0V386.0H1701.0H1703.0V388.0H1705.0V386.0H1707.0H1709.0H1711.0H1713.0V388.0H1715.0V386.0H1717.0H1719.0H1721.0V388.0H1723.0V386.0H1725.0H1727.0H1729.0H1731.0H1733.0H1735.0H1737.0H1739.0H1741.0H1743.0V388.0H1745.0V386.0H1747.0H1749.0H1751.0H1753.0H1755.0H1757.0V384.0H1759.0V386.0H1761.0H1763.0H1765.0H1767.0H1769.0H1771.0V384.0H1773.0V386.0H1775.0H1777.0H1779.0H1781.0H1783.0H1785.0H1787.0H1789.0H1791.0H1793.0H1795.0H1797.0V388.0H1799.0V386.0H1801.0H1803.0H1805.0H1807.0H1809.0H1811.0V388.0H1813.0V386.0H1815.0H1817.0V388.0H1819.0V386.0H1821.0V388.0H1823.0H1825.0H1827.0V386.0H1829.0V388.0H1831.0V386.0H1833.0V388.0H1835.0V386.0H1837.0V388.0H1839.0H1841.0H1843.0H1845.0H1847.0H1849.0H1851.0V390.0H1853.0H1855.0V388.0H1857.0V390.0H1859.0H1861.0V392.0H1863.0H1865.0V390.0H1867.0H1869.0V392.0H1871.0V390.0H1873.0V392.0H1875.0H1877.0H1879.0H1881.0V394.0H1883.0V392.0H1885.0H1887.0V394.0H1889.0V392.0H1891.0H1893.0V394.0H1895.0H1897.0H1899.0V392.0H1901.0V394.0H1903.0H1905.0V392.0H1907.0V394.0H1909.0V392.0H1911.0V394.0H1913.0H1915.0H1917.0V392.0H1919.0V394.0H1921.0H1923.0H1925.0H1927.0H1929.0H1931.0V396.0H1933.0V394.0H1935.0V396.0H1937.0V394.0H1939.0V396.0H1941.0H1943.0H1945.0H1947.0H1949.0H1951.0V394.0H1953.0H1955.0V396.0H1957.0V394.0H1959.0H1961.0H1963.0H1965.0H1967.0V396.0H1969.0H1971.0V394.0H1973.0H1975.0H1977.0H1979.0V392.0H1981.0V394.0H1983.0H1985.0V392.0H1987.0H1989.0H1991.0H1993.0V394.0H1995.0H1997.0H1999.0V396.0H2001.0H2003.0V394.0H2005.0V396.0H2007.0H2009.0H2011.0H2013.0H2015.0H2017.0H2019.0V398.0H2021.0H2023.0H2025.0H2027.0H2029.0H2031.0H2033.0H2035.0H2037.0H2039.0H2041.0H2043.0H2045.0V400.0H2047.0V398.0H2049.0V400.0H2051.0V398.0H2053.0V396.0H2055.0V398.0H2057.0V396.0H2059.0V398.0H2061.0V396.0H2063.0V398.0H2064.5" fill="none" stroke="#000000" stroke-width="5.8" stroke-linejoin="miter" stroke-miterlimit="4" stroke-linecap="butt"/>
<text transform="matrix(0.26277,0,0,0.22394,1453.80,20.33)" font-size="100" fill="#000" stroke="#000" stroke-width="7.01" stroke-linejoin="round">0.25</text>
<text transform="matrix(0.26488,0,0,0.22394,1453.79,120.33)" font-size="100" fill="#000" stroke="#000" stroke-width="6.98" stroke-linejoin="round">0.20</text>
<clipPath id="c1_7" clipPathUnits="userSpaceOnUse"><path d="M-50,-150H2000V150H-50ZM83.2,-16.2H103.2V9.5H83.2ZM124.0,-16.2H140.9V9.5H124.0Z" clip-rule="evenodd"/></clipPath>
<text transform="matrix(0.26277,0,0,0.22394,1453.80,220.33)" font-size="100" fill="#000" stroke="#000" stroke-width="7.01" stroke-linejoin="round" clip-path="url(#c1_7)">0.15</text>
<clipPath id="c1_8" clipPathUnits="userSpaceOnUse"><path d="M-50,-150H2000V150H-50ZM83.2,-16.2H103.2V9.5H83.2ZM124.0,-16.2H140.9V9.5H124.0Z" clip-rule="evenodd"/></clipPath>
<text transform="matrix(0.26488,0,0,0.22394,1453.79,320.33)" font-size="100" fill="#000" stroke="#000" stroke-width="6.98" stroke-linejoin="round" clip-path="url(#c1_8)">0.10</text>
<text transform="matrix(0.26277,0,0,0.22394,1453.80,420.33)" font-size="100" fill="#000" stroke="#000" stroke-width="7.01" stroke-linejoin="round">0.05</text>
<text transform="matrix(0.25528,0,0,0.23662,1548.87,488.51)" font-size="100" fill="#000" stroke="#000" stroke-width="6.92" stroke-linejoin="round">400</text>
<text transform="matrix(0.25768,0,0,0.23662,1703.88,488.51)" font-size="100" fill="#000" stroke="#000" stroke-width="6.88" stroke-linejoin="round">500</text>
<text transform="matrix(0.25849,0,0,0.23662,1859.15,488.51)" font-size="100" fill="#000" stroke="#000" stroke-width="6.87" stroke-linejoin="round">600</text>
<text transform="matrix(0.26013,0,0,0.23662,2014.28,488.51)" font-size="100" fill="#000" stroke="#000" stroke-width="6.85" stroke-linejoin="round">700</text>
<text transform="matrix(0.33199,0,0,0.29655,1633.70,537.50)" font-size="100" fill="#000" stroke="#000" stroke-width="4.46" stroke-linejoin="round">Wavelength (nm)</text>
<text transform="translate(1442.10,377.95) rotate(-90.0) scale(0.34037,0.34621)" font-size="100" fill="#000" stroke="#000" stroke-width="4.08" stroke-linejoin="round">Absorbance (au)</text>
<text transform="matrix(0.51659,0,0,0.50531,1540.41,82.69)" font-size="100" style="font-family:'Noto Sans CJK JP', 'Liberation Sans', sans-serif" fill="#000" stroke="#000" stroke-width="1.96" stroke-linejoin="round">(c)</text>
<clipPath id="c1_9" clipPathUnits="userSpaceOnUse"><path d="M-50,-150H2000V150H-50ZM1.1,-14.9H21.1V8.2H1.1ZM39.3,-14.9H56.2V8.2H39.3ZM112.3,-14.9H132.3V8.2H112.3ZM150.5,-14.9H167.4V8.2H150.5Z" clip-rule="evenodd"/></clipPath>
<text transform="matrix(0.32217,0,0,0.30986,1792.81,71.89)" font-size="100" fill="#000" stroke="#000" stroke-width="4.43" stroke-linejoin="round" clip-path="url(#c1_9)">1x10</text>
<clipPath id="c1_10" clipPathUnits="userSpaceOnUse"><path d="M-50,-150H2000V150H-50ZM0.4,-15.6H20.4V8.9H0.4ZM40.0,-15.6H56.9V8.9H40.0Z" clip-rule="evenodd"/></clipPath>
<text transform="matrix(0.26040,0,0,0.22817,1865.91,53.07)" font-size="100" fill="#000" stroke="#000" stroke-width="5.74" stroke-linejoin="round" clip-path="url(#c1_10)">16</text>
<rect x="1917" y="22.3" width="139" height="113" fill="none" stroke="#444" stroke-width="1.6"/>
<line x1="1936.50" y1="58.40" x2="1981.50" y2="58.40" stroke="#000000" stroke-width="5.50" stroke-linecap="round"/>
<text transform="matrix(0.24161,0,0,0.26000,1987.90,65.55)" font-size="100" fill="#000" stroke="#000" stroke-width="1.20" stroke-linejoin="round">2 nm</text>
<line x1="1936.50" y1="91.50" x2="1981.50" y2="91.50" stroke="#ff0000" stroke-width="5.50" stroke-linecap="round"/>
<text transform="matrix(0.24053,0,0,0.25211,1988.15,96.60)" font-size="100" fill="#000" stroke="#000" stroke-width="1.22" stroke-linejoin="round">3 nm</text>
<line x1="1936.50" y1="123.30" x2="1981.50" y2="123.30" stroke="#0000ff" stroke-width="5.50" stroke-linecap="round"/>
<text transform="matrix(0.24107,0,0,0.25571,1988.03,128.59)" font-size="100" fill="#000" stroke="#000" stroke-width="1.21" stroke-linejoin="round">5 nm</text>
</g>
</svg>
</body></html>
